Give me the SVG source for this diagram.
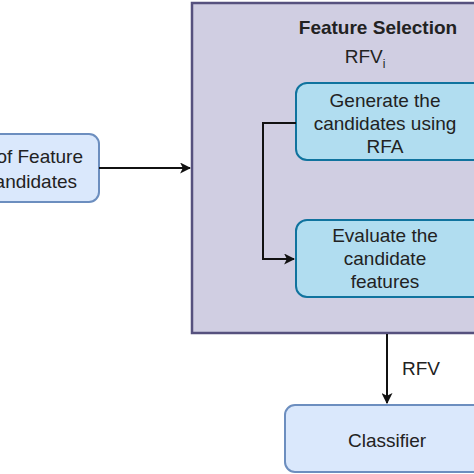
<svg xmlns="http://www.w3.org/2000/svg" width="474" height="474" viewBox="0 0 474 474">
<defs>
<style>
.t{font-family:"Liberation Sans",Arial,sans-serif;font-size:19px;fill:#222;text-anchor:middle}
.blue{fill:#dae8fc;stroke:#6c8ebf;stroke-width:2}
.cyan{fill:#b1ddf0;stroke:#10739e;stroke-width:2}
.ln{fill:none;stroke:#111;stroke-width:2}
</style>
<marker id="ah" viewBox="0 0 10 10" refX="9" refY="5" markerWidth="11" markerHeight="11" markerUnits="userSpaceOnUse" orient="auto">
<path d="M0,0 L10,5 L0,10 L2.5,5 Z" fill="#111"/>
</marker>
</defs>
<rect width="474" height="474" fill="#ffffff"/>
<g id="feature-selection">
<rect x="192" y="3" width="300" height="330" fill="#d0cee2" stroke="#56517e" stroke-width="2.5"/>
<text class="t" x="378" y="34" style="font-weight:bold">Feature Selection</text>
<text class="t" x="365" y="63">RFV<tspan dy="5" style="font-size:12px">i</tspan></text>
</g>
<g id="candidates">
<rect class="blue" x="-100" y="134" width="199" height="68" rx="10"/>
<text class="t" x="83" y="163" style="text-anchor:end">of Feature</text>
<text class="t" x="77" y="188" style="text-anchor:end">Candidates</text>
</g>
<g id="generate">
<rect class="cyan" x="296" y="83" width="190" height="77" rx="11"/>
<text class="t" x="385" y="107">Generate the</text>
<text class="t" x="385" y="130">candidates using</text>
<text class="t" x="385" y="153">RFA</text>
</g>
<g id="evaluate">
<rect class="cyan" x="296" y="220" width="190" height="77" rx="11"/>
<text class="t" x="385" y="242">Evaluate the</text>
<text class="t" x="385" y="265">candidate</text>
<text class="t" x="385" y="288">features</text>
</g>
<g id="classifier">
<rect class="blue" x="285" y="405" width="210" height="67" rx="10"/>
<text class="t" x="387" y="447">Classifier</text>
</g>
<g id="connectors">
<path class="ln" d="M99,168 L190,168" marker-end="url(#ah)"/>
<path class="ln" d="M296,123 L263,123 L263,259 L294,259" marker-end="url(#ah)"/>
<path class="ln" d="M387,334 L387,403" marker-end="url(#ah)"/>
<text class="t" x="421" y="375">RFV</text>
</g>
</svg>
